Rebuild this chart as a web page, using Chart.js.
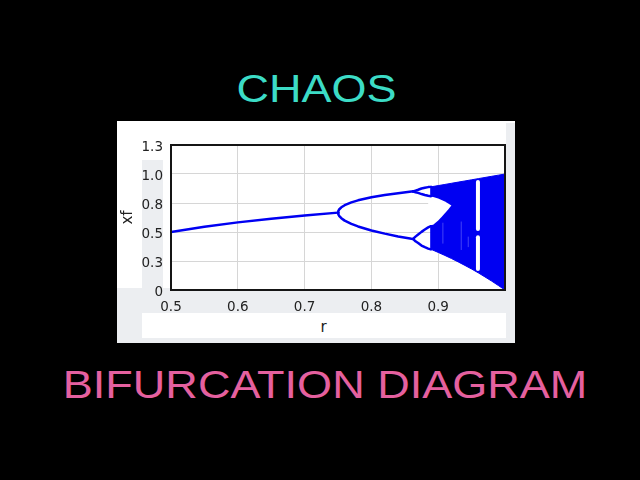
<!DOCTYPE html>
<html>
<head>
<meta charset="utf-8">
<script src="https://cdn.jsdelivr.net/npm/chart.js@4.4.0/dist/chart.umd.min.js"></script>
<style>
html,body{margin:0;padding:0;background:#000;width:640px;height:480px;overflow:hidden;}
.abs{position:absolute;}
.title{position:absolute;width:640px;text-align:center;font-family:"Liberation Sans",Arial,sans-serif;white-space:nowrap;}
.title span{display:inline-block;}
</style>
</head>
<body>
<div class="title" style="left:-3px;top:70px;font-size:38px;line-height:38px;color:#3cdcc6;"><span style="transform:scaleX(1.185)">CHAOS</span></div>
<div class="title" style="left:5px;top:365px;font-size:39.5px;line-height:39.5px;color:#e5609f;"><span style="transform:scaleX(1.14)">BIFURCATION DIAGRAM</span></div>

<div class="abs" style="left:117px;top:121px;width:398px;height:222px;background:#fff"></div>
<div class="abs" style="left:142px;top:160px;width:21px;height:135px;background:#eceef1"></div>
<div class="abs" style="left:117px;top:288px;width:389px;height:55px;background:#eceef1"></div>
<div class="abs" style="left:506px;top:123px;width:9px;height:220px;background:#eceef1"></div>
<div class="abs" style="left:142px;top:313px;width:364px;height:25px;background:#fff"></div>
<div class="abs" style="left:300px;top:320px;width:47px;text-align:center;font:15px 'DejaVu Sans',sans-serif;line-height:15px;color:#222">r</div>

<canvas id="c" class="abs" style="left:117px;top:121px;width:398px;height:222px" width="398" height="222"></canvas>

<script>
// ---- data ----
const rStable = [0.5, 0.55, 0.6, 0.65, 0.7, 0.75];
const xfStable = [0.5, 0.545, 0.583, 0.615, 0.643, 0.667];

const rPeriod2 = [0.75, 0.7505, 0.752, 0.755, 0.76, 0.77, 0.78, 0.8, 0.82, 0.84, 0.86, 0.8624];
const xfPeriod2Upper = [0.667, 0.682, 0.696, 0.713, 0.731, 0.755, 0.773, 0.800, 0.819, 0.835, 0.849, 0.850];
const xfPeriod2Lower = [0.667, 0.652, 0.637, 0.619, 0.598, 0.570, 0.548, 0.513, 0.486, 0.462, 0.442, 0.440];

const rPeriod4 = [0.8624, 0.866, 0.87, 0.875, 0.88, 0.885, 0.889];
const xfP4UpperHigh = [0.850, 0.857, 0.864, 0.875, 0.882, 0.887, 0.889];
const xfP4UpperLow  = [0.850, 0.843, 0.837, 0.827, 0.819, 0.812, 0.808];
const xfP4LowerHigh = [0.440, 0.460, 0.478, 0.501, 0.522, 0.540, 0.550];
const xfP4LowerLow  = [0.440, 0.420, 0.405, 0.383, 0.369, 0.357, 0.350];

const rChaos = [0.888, 0.89, 0.9, 0.91, 0.92, 0.93, 0.94, 0.95, 0.96, 0.97, 0.98, 0.99, 1.0];
const xfChaosMax = [0.889, 0.89, 0.9, 0.91, 0.92, 0.93, 0.94, 0.95, 0.96, 0.97, 0.98, 0.99, 1.0];
const xfChaosMin = [0.352, 0.349, 0.324, 0.298, 0.271, 0.242, 0.212, 0.181, 0.148, 0.113, 0.077, 0.039, 0.0];

const rGap = [0.885, 0.8925, 0.9, 0.905, 0.91, 0.915, 0.9197];
const xfGapTop = [0.806, 0.802, 0.789, 0.776, 0.762, 0.745, 0.728];
const xfGapBottom = [0.555, 0.563, 0.600, 0.629, 0.661, 0.695, 0.728];

const rWindow3 = 0.9595;
const xfWindowLow = [0.18, 0.455];
const xfWindowHigh = [0.525, 0.93];

const rFaint = [0.907, 0.9345, 0.945];
const xfFaintLow = [0.40, 0.345, 0.37];
const xfFaintHigh = [0.58, 0.59, 0.46];

const xTickLabels = ['0.5', '0.6', '0.7', '0.8', '0.9', ''];
const yTickLabels = ['0', '0.3', '0.5', '0.8', '1.0', '1.3'];

// ---- helpers ----
const pts = (xs, ys) => xs.map((x, i) => ({x: x, y: ys[i]}));
const BLUE = '#0000f2';

const polygon = (xs, top, bottom) =>
  pts(xs, top).concat(pts(xs.slice().reverse(), bottom.slice().reverse()));

const datasets = [];
// chaotic band (filled)
datasets.push({data: polygon(rChaos, xfChaosMax, xfChaosMin), borderColor: BLUE, backgroundColor: BLUE,
  borderWidth: 1, fill: 'shape', order: 10});
// white gap between the two bands
datasets.push({data: polygon(rGap, xfGapTop, xfGapBottom), borderColor: 'rgba(0,0,0,0)', backgroundColor: '#ffffff',
  borderWidth: 0, fill: 'shape', order: 9});
// branches
const branch = (xs, ys) => ({data: pts(xs, ys), borderColor: BLUE, borderWidth: 2.5, fill: false, order: 5,
  borderCapStyle: 'round', borderJoinStyle: 'round'});
datasets.push(branch(rStable, xfStable));
datasets.push(branch(rPeriod2, xfPeriod2Upper));
datasets.push(branch(rPeriod2, xfPeriod2Lower));
datasets.push(branch(rPeriod4, xfP4UpperHigh));
datasets.push(branch(rPeriod4, xfP4UpperLow));
datasets.push(branch(rPeriod4, xfP4LowerHigh));
datasets.push(branch(rPeriod4, xfP4LowerLow));
// faint periodic windows
rFaint.forEach((r, i) => datasets.push({data: [{x: r, y: xfFaintLow[i]}, {x: r, y: xfFaintHigh[i]}],
  borderColor: 'rgba(190,190,255,0.35)', borderWidth: 1, fill: false, order: 3}));
// period-3 window
datasets.push({data: [{x: rWindow3, y: xfWindowLow[0]}, {x: rWindow3, y: xfWindowLow[1]}],
  borderColor: '#ffffff', borderWidth: 4, fill: false, order: 2, borderCapStyle: 'round'});
datasets.push({data: [{x: rWindow3, y: xfWindowHigh[0]}, {x: rWindow3, y: xfWindowHigh[1]}],
  borderColor: '#ffffff', borderWidth: 4, fill: false, order: 2, borderCapStyle: 'round'});

const frame = {
  id: 'frame',
  beforeDraw(chart) {
    const {ctx, chartArea: a} = chart;
    ctx.save();
    ctx.fillStyle = '#ffffff';
    ctx.fillRect(a.left, a.top, a.right - a.left, a.bottom - a.top);
    ctx.restore();
  },
  afterDatasetsDraw(chart) {
    const {ctx, chartArea: a} = chart;
    ctx.save();
    ctx.strokeStyle = '#151515';
    ctx.lineWidth = 2;
    ctx.strokeRect(a.left, a.top, a.right - a.left, a.bottom - a.top);
    ctx.restore();
  }
};

const tickFont = {family: "'DejaVu Sans', sans-serif", size: 13.5};

new Chart(document.getElementById('c'), {
  type: 'line',
  data: {datasets: datasets},
  options: {
    responsive: false,
    animation: false,
    layout: {padding: {top: 24, right: 10, left: 0, bottom: 0}},
    elements: {point: {radius: 0, hoverRadius: 0}, line: {tension: 0}},
    plugins: {legend: {display: false}, tooltip: {enabled: false}},
    scales: {
      x: {
        type: 'linear', min: 0.5, max: 1.0,
        afterFit(s) { s.height = 53; },
        grid: {color: '#d6d6d6', lineWidth: 1, drawTicks: false},
        border: {display: false},
        ticks: {stepSize: 0.1, autoSkip: false, maxRotation: 0, padding: 9, color: '#222', font: tickFont,
          callback: (v, i) => xTickLabels[i]}
      },
      y: {
        type: 'linear', min: 0, max: 1.25,
        afterFit(s) { s.width = 54; },
        grid: {color: '#d6d6d6', lineWidth: 1, drawTicks: false},
        border: {display: false},
        title: {display: true, text: 'xf', color: '#222', font: {family: "'DejaVu Sans', sans-serif", size: 15},
          padding: {top: 2, bottom: 0}},
        ticks: {stepSize: 0.25, autoSkip: false, padding: 8, labelOffset: 2, color: '#222', font: tickFont,
          callback: (v, i) => yTickLabels[i]}
      }
    }
  },
  plugins: [frame]
});
</script>
</body>
</html>
